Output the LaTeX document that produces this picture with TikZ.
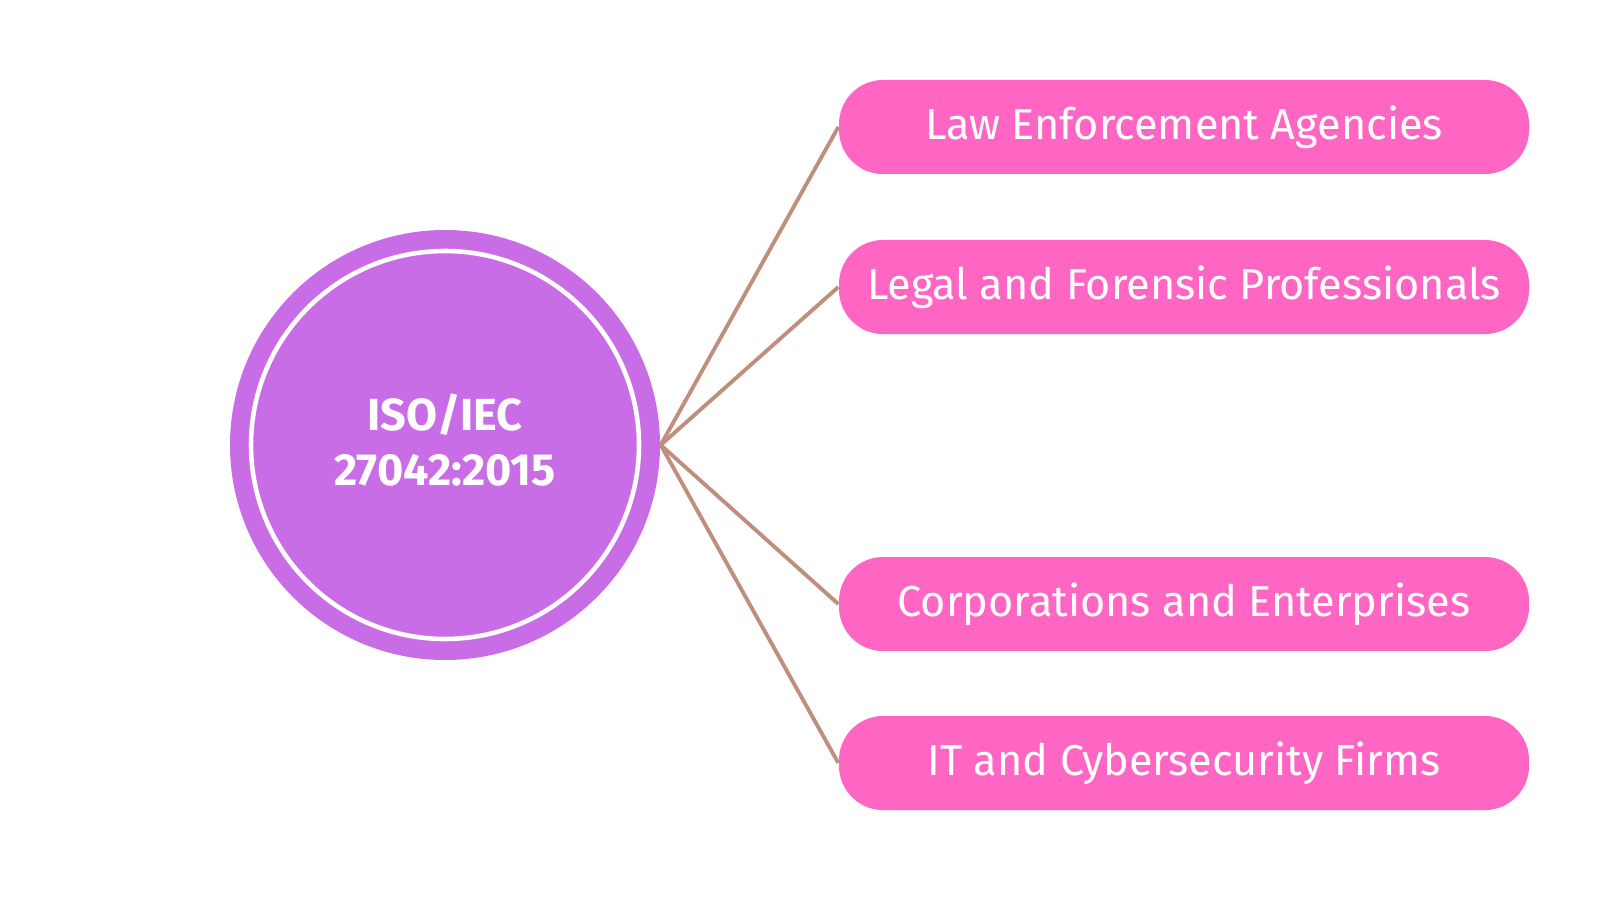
\documentclass[tikz,border=0pt]{standalone}
\usepackage{fontspec}
\setmainfont{Fira Sans}
\definecolor{circ}{HTML}{C96DE6}
\definecolor{pinkbox}{HTML}{FF66C4}
\definecolor{linec}{HTML}{C08E7C}
\tikzset{
 item/.style={fill=pinkbox, rounded corners=0.44cm, minimum width=6.90cm, minimum height=0.94cm, text=white, font=\fontsize{12.3}{14}\selectfont, inner sep=0pt},
 conn/.style={draw=linec, line width=1.1pt}
}
\begin{document}
\begin{tikzpicture}
\useasboundingbox (0,0) rectangle (16,9);
\node[circle, fill=circ, minimum size=4.30cm, inner sep=0pt] (c) at (4.45,4.55) {};
\draw[white, line width=1.3pt] (c.center) circle (1.94);
\node[text=white, align=center, font=\bfseries\fontsize{12.8}{15.5}\selectfont] (t) at (4.45,4.60) {ISO/IEC\\27042:2015};
\node[item] (b1) at (11.84,7.73) {Law Enforcement Agencies};
\node[item] (b2) at (11.84,6.13) {Legal and Forensic Professionals};
\node[item] (b3) at (11.84,2.96) {Corporations and Enterprises};
\node[item] (b4) at (11.84,1.37) {IT and Cybersecurity Firms};
\foreach \b in {b1,b2,b3,b4} \draw[conn] (c.east) -- (\b.west);
\end{tikzpicture}
\end{document}
